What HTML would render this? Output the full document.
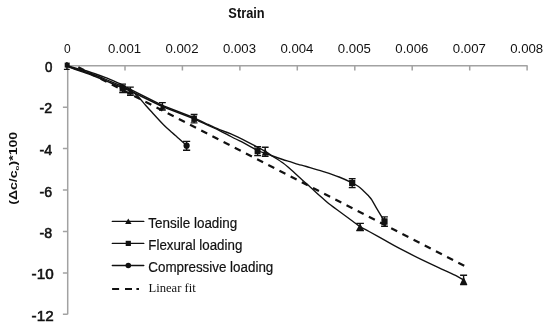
<!DOCTYPE html>
<html><head><meta charset="utf-8"><title>Strain chart</title>
<style>
html,body{margin:0;padding:0;background:#fff;}
svg{display:block;}
text{font-family:"Liberation Sans",sans-serif;fill:#111;}
.ax{stroke:#a2a2a2;stroke-width:1.5;fill:none;}
.ln{stroke:#111;stroke-width:1.5;fill:none;stroke-linejoin:round;stroke-linecap:round;}
.th{stroke:#111;stroke-width:1.35;fill:none;stroke-linejoin:round;stroke-linecap:round;}
.eb{stroke:#111;stroke-width:1.4;fill:none;}
.mk{fill:#111;stroke:none;}
.xl{font-size:12px;text-anchor:middle;}
.yl{font-size:14.6px;text-anchor:end;stroke:#111;stroke-width:0.55;}
.lg{font-size:14px;stroke:#111;stroke-width:0.2;}
</style></head><body>
<svg width="550" height="334" viewBox="0 0 550 334">
<rect width="550" height="334" fill="#fff"/>
<!-- axes -->
<g class="ax">
<path d="M67 65.8H527.6"/>
<path d="M67.7 65.8V314.3"/>
<path d="M125.0 65.8v4.6M182.4 65.8v4.6M239.9 65.8v4.6M297.3 65.8v4.6M354.8 65.8v4.6M412.2 65.8v4.6M469.7 65.8v4.6M527.1 65.8v4.6"/>
<path d="M67.7 107.2h-4.8M67.7 148.6h-4.8M67.7 190.1h-4.8M67.7 231.5h-4.8M67.7 272.9h-4.8M67.7 314.3h-4.8"/>
</g>
<!-- title -->
<text x="246.5" y="18.4" text-anchor="middle" font-size="14.5" font-weight="bold" textLength="36.3" lengthAdjust="spacingAndGlyphs">Strain</text>
<!-- x labels -->
<g class="xl">
<text x="67.4" y="53">0</text>
<text x="124.6" y="53" textLength="33" lengthAdjust="spacingAndGlyphs">0.001</text>
<text x="182.0" y="53" textLength="33" lengthAdjust="spacingAndGlyphs">0.002</text>
<text x="239.5" y="53" textLength="33" lengthAdjust="spacingAndGlyphs">0.003</text>
<text x="296.9" y="53" textLength="33" lengthAdjust="spacingAndGlyphs">0.004</text>
<text x="354.3" y="53" textLength="33" lengthAdjust="spacingAndGlyphs">0.005</text>
<text x="411.8" y="53" textLength="33" lengthAdjust="spacingAndGlyphs">0.006</text>
<text x="469.3" y="53" textLength="33" lengthAdjust="spacingAndGlyphs">0.007</text>
<text x="526.7" y="53" textLength="33" lengthAdjust="spacingAndGlyphs">0.008</text>
</g>
<!-- y labels -->
<g class="yl">
<text x="52.5" y="72.2" textLength="7.4" lengthAdjust="spacingAndGlyphs">0</text>
<text x="52.2" y="113.3" textLength="12.6" lengthAdjust="spacingAndGlyphs">-2</text>
<text x="52.2" y="155" textLength="12.6" lengthAdjust="spacingAndGlyphs">-4</text>
<text x="52.2" y="196.7" textLength="12.6" lengthAdjust="spacingAndGlyphs">-6</text>
<text x="52.2" y="238.1" textLength="12.6" lengthAdjust="spacingAndGlyphs">-8</text>
<text x="53.6" y="279.4" textLength="22" lengthAdjust="spacingAndGlyphs">-10</text>
<text x="53.6" y="321" textLength="22" lengthAdjust="spacingAndGlyphs">-12</text>
</g>
<!-- y title -->
<text transform="translate(17.2 168.3) rotate(-90)" text-anchor="middle" font-size="10.6" font-weight="bold" textLength="73" lengthAdjust="spacingAndGlyphs">(Δc/c<tspan font-size="6" dy="1.6">o</tspan><tspan dy="-1.6">)*100</tspan></text>
<!-- linear fit -->
<path d="M78.3 67.15L465.1 266.3" stroke="#111" stroke-width="2.2" stroke-dasharray="6.7 5.87" fill="none"/>
<!-- compressive -->
<path class="th" d="M67.5 66.1C68.8 66.5 71.9 67.8 75.0 68.8C78.1 69.8 82.8 71.0 86.0 72.0C89.2 73.0 90.8 73.6 94.0 74.8C97.2 76.0 100.7 77.2 105.0 79.0C109.3 80.8 117.0 84.0 120.0 85.3C123.0 86.5 121.0 85.7 122.7 86.5C124.4 87.3 129.1 89.6 130.4 90.2"/>
<path class="th" d="M130.4 90.2C131.5 91.1 134.5 93.0 137.0 95.5C139.5 98.0 142.8 102.0 145.6 105.2C148.4 108.4 151.0 111.2 154.0 114.5C157.0 117.8 160.5 121.7 163.5 124.7C166.5 127.7 169.7 130.5 172.0 132.6C174.3 134.7 175.7 135.8 177.5 137.4C179.3 139.0 181.2 140.5 182.7 141.9C184.2 143.3 185.9 145.0 186.6 145.6"/>
<!-- flexural -->
<path class="ln" d="M67.5 65.8C68.8 66.2 71.9 67.3 75.0 68.1C78.1 68.9 82.8 69.9 86.0 70.8C89.2 71.7 90.8 72.3 94.0 73.4C97.2 74.5 100.7 75.7 105.0 77.4C109.3 79.1 117.0 82.5 120.0 83.8C123.0 85.1 121.0 84.2 122.7 85.1C124.4 86.0 129.1 88.7 130.4 89.4L162.3 105.4L194 117.8"/>
<path class="th" d="M194.2 118.8C196.2 119.7 201.8 122.4 206.0 124.4C210.2 126.4 215.3 128.6 219.5 130.6C223.7 132.6 226.3 134.1 230.9 136.5C235.5 138.9 242.9 142.5 247.3 144.8C251.8 147.1 254.7 149.1 257.6 150.5C260.6 151.9 262.7 152.4 265.0 153.2C267.3 154.0 268.4 154.4 271.3 155.5C274.2 156.6 279.6 158.5 282.7 159.5C285.8 160.5 287.4 160.9 290.0 161.7C292.6 162.5 295.5 163.5 298.2 164.3C300.9 165.1 302.3 165.3 306.4 166.5C310.5 167.7 317.2 169.6 322.7 171.3C328.1 173.1 334.2 175.1 339.1 177.0C344.0 178.9 349.0 181.3 352.2 182.9C355.4 184.5 356.6 185.2 358.5 186.5C360.4 187.8 362.0 189.4 363.6 190.9C365.2 192.4 366.6 193.8 368.0 195.3C369.4 196.8 370.3 197.6 371.8 199.9C373.3 202.2 375.0 205.6 377.1 209.2C379.2 212.8 383.2 219.3 384.4 221.3"/>
<!-- tensile -->
<path class="ln" d="M67.5 66.4C68.8 66.9 71.9 68.3 75.0 69.4C78.1 70.5 82.8 71.9 86.0 73.0C89.2 74.1 90.8 74.8 94.0 76.0C97.2 77.2 100.7 78.6 105.0 80.4C109.3 82.2 117.0 85.5 120.0 86.8C123.0 88.1 121.0 87.3 122.7 88.0C124.4 88.7 129.1 90.5 130.4 91.0L162.3 106.5L194.2 118.9"/>
<path class="th" d="M194.0 117.9C196.0 118.8 201.8 121.5 206.0 123.5C210.2 125.5 215.3 128.0 219.5 129.7C223.7 131.4 226.3 131.9 230.9 133.9C235.5 135.9 241.6 138.9 247.3 141.8C253.0 144.7 261.2 149.0 265.2 151.3C269.2 153.6 268.4 153.6 271.3 155.5C274.2 157.4 279.6 160.6 282.7 162.8C285.8 165.0 287.4 166.6 290.0 168.8C292.6 171.0 295.5 173.7 298.2 176.2C300.9 178.7 303.7 181.1 306.4 183.6C309.1 186.1 311.8 188.4 314.5 190.9C317.2 193.4 320.2 196.1 322.7 198.3C325.2 200.5 327.0 202.2 329.3 204.0C331.6 205.8 332.5 206.3 336.4 209.2C340.3 212.1 348.8 218.3 352.7 221.2C356.6 224.1 357.4 225.0 360.1 226.7C362.8 228.4 364.9 229.2 369.1 231.5C373.3 233.8 380.5 237.9 385.5 240.7C390.5 243.5 392.8 244.9 399.0 248.2C405.2 251.4 416.0 256.9 422.7 260.2C429.4 263.5 433.6 265.3 439.1 267.8C444.6 270.3 451.4 273.3 455.5 275.3C459.6 277.3 462.2 279.2 463.6 280.0"/>
<!-- error bars -->
<g class="eb">
<path d="M66.9 62V69.4M63.9 69.4h5.8"/>
<path d="M122.6 84.1V92.5M119.2 84.1h6.8M119.2 92.5h6.8"/>
<path d="M130.4 87.1V95.2M127.0 87.1h6.8M127.0 95.2h6.8"/>
<path d="M162.4 102.6V110.0M159.0 102.6h6.8M159.0 110.0h6.8"/>
<path d="M194.1 114.5V122.9M190.7 114.5h6.8M190.7 122.9h6.8"/>
<path d="M186.6 141.4V150.2M183.0 141.4h7.2M183.0 150.2h7.2"/>
<path d="M257.6 146.8V155.6M254.2 146.8h6.8M254.2 155.6h6.8"/>
<path d="M265.2 147.3V156.2M261.8 147.3h6.8M261.8 156.2h6.8"/>
<path d="M352.2 178.6V187.6M348.8 178.6h6.8M348.8 187.6h6.8"/>
<path d="M384.5 216.9V226.2M381.1 216.9h6.8M381.1 226.2h6.8"/>
<path d="M360.1 223.4V230.6M356.3 223.4h7.6M356.3 230.6h7.6"/>
<path d="M463.6 275.3V284.6M460.1 275.3h7.0M460.1 284.6h7.0"/>
</g>
<!-- markers -->
<g class="mk">
<rect x="64.7" y="62.6" width="5" height="5"/>
<rect x="119.6" y="85.2" width="6" height="6.2"/>
<rect x="191.4" y="115.7" width="5.5" height="6"/>
<rect x="254.6" y="148.1" width="6" height="6.2"/>
<rect x="349.1" y="179.8" width="6.2" height="6.4"/>
<rect x="381.4" y="218.3" width="6.2" height="6.4"/>
<path d="M130.4 87.6l3.4 6.8h-6.8z"/>
<path d="M162.4 103l2.9 6.4h-5.8z"/>
<path d="M194.1 115.4l2.9 6.4h-5.8z"/>
<path d="M265.2 148.4l3.4 7h-6.8z"/>
<path d="M360.1 223.6l3.9 6.9h-7.8z"/>
<path d="M463.6 276.8l3.7 7.8h-7.4z"/>
<circle cx="122.6" cy="88.3" r="2.8"/>
<circle cx="186.6" cy="145.7" r="3.1"/>
</g>
<!-- legend -->
<g class="th">
<path d="M112.3 221.4H143.8M112.3 243.4H143.8M112.3 265.5H143.8"/>
</g>
<g class="mk">
<path d="M128.3 218.5l3.2 5.6h-6.4z"/>
<rect x="125.7" y="240.8" width="5.2" height="5.2"/>
<circle cx="128.3" cy="265.5" r="2.8"/>
</g>
<path d="M112.1 288.9H139.2" stroke="#111" stroke-width="2" stroke-dasharray="7 5.9 7 4.4 2.6 10" fill="none"/>
<g class="lg">
<text x="148.3" y="227.6" textLength="89" lengthAdjust="spacingAndGlyphs">Tensile loading</text>
<text x="148.3" y="249.5" textLength="94" lengthAdjust="spacingAndGlyphs">Flexural loading</text>
<text x="148.3" y="271.8" textLength="125" lengthAdjust="spacingAndGlyphs">Compressive loading</text>
<text x="148.5" y="291.7" font-size="13" stroke="none" fill="#333" style="font-family:'Liberation Serif',serif" textLength="47.3" lengthAdjust="spacingAndGlyphs">Linear fit</text>
</g>
</svg>
</body></html>
